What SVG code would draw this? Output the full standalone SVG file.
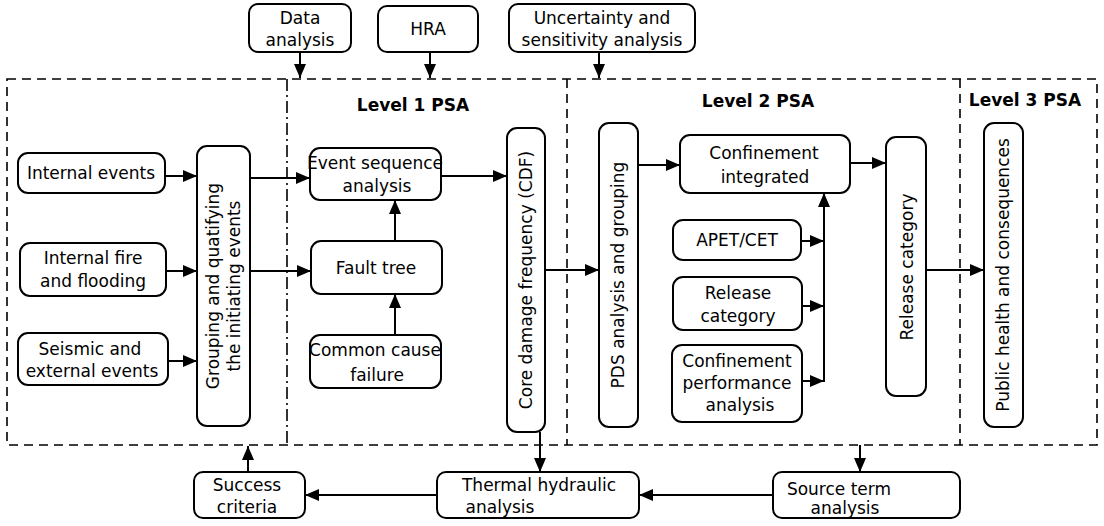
<svg xmlns="http://www.w3.org/2000/svg" width="1104" height="526" viewBox="0 0 1104 526">
<style>
.n{fill:#fff;stroke:#000;stroke-width:2}
text{font-family:"DejaVu Sans",Verdana,sans-serif;font-size:17px;fill:#000;text-anchor:middle}
.b{font-weight:bold}
.c{stroke:#000;stroke-width:2;fill:none}
.d{stroke:#000;stroke-width:1.6;fill:none;stroke-dasharray:9,6}
</style>
<defs><marker id="a" viewBox="0 0 14 12" refX="14" refY="6" markerWidth="14" markerHeight="12" orient="auto" markerUnits="userSpaceOnUse"><path d="M0,0L14,6L0,12z" fill="#000" stroke="none"/></marker></defs>
<rect width="1104" height="526" fill="#fff"/>
<g id="frames">
<rect class="d" x="7" y="79" width="1090" height="366"/>
<line class="d" x1="287" y1="79" x2="287" y2="445" style="stroke-dasharray:12,4,2,4"/>
<line class="d" x1="567" y1="79" x2="567" y2="445"/>
<line class="d" x1="960" y1="79" x2="960" y2="445"/>
<text class="b" x="413" y="111">Level 1 PSA</text>
<text class="b" x="758" y="107">Level 2 PSA</text>
<text class="b" x="1025" y="106">Level 3 PSA</text>
</g>
<g id="connectors" class="c">
<line x1="300" y1="52" x2="300" y2="78" marker-end="url(#a)"/>
<line x1="430" y1="52" x2="430" y2="78" marker-end="url(#a)"/>
<line x1="599" y1="52" x2="599" y2="78" marker-end="url(#a)"/>
<line x1="165" y1="176" x2="197" y2="176" marker-end="url(#a)"/>
<line x1="166" y1="271" x2="197" y2="271" marker-end="url(#a)"/>
<line x1="168" y1="361" x2="197" y2="361" marker-end="url(#a)"/>
<line x1="250" y1="178" x2="310" y2="178" marker-end="url(#a)"/>
<line x1="250" y1="271" x2="311" y2="271" marker-end="url(#a)"/>
<line x1="441" y1="176" x2="507" y2="176" marker-end="url(#a)"/>
<line x1="395" y1="241" x2="395" y2="200" marker-end="url(#a)"/>
<line x1="395" y1="335" x2="395" y2="294" marker-end="url(#a)"/>
<line x1="545" y1="270" x2="599" y2="270" marker-end="url(#a)"/>
<line x1="638" y1="165" x2="680" y2="165" marker-end="url(#a)"/>
<line x1="850" y1="163" x2="886" y2="163" marker-end="url(#a)"/>
<line x1="824" y1="382" x2="824" y2="193" marker-end="url(#a)"/>
<line x1="801" y1="241" x2="824" y2="241" marker-end="url(#a)"/>
<line x1="802" y1="306" x2="824" y2="306" marker-end="url(#a)"/>
<line x1="802" y1="381" x2="824" y2="381" marker-end="url(#a)"/>
<line x1="926" y1="270" x2="984" y2="270" marker-end="url(#a)"/>
<line x1="540" y1="432" x2="540" y2="472" marker-end="url(#a)"/>
<line x1="860" y1="445" x2="860" y2="472" marker-end="url(#a)"/>
<line x1="773" y1="495" x2="639" y2="495" marker-end="url(#a)"/>
<line x1="437" y1="495" x2="305" y2="495" marker-end="url(#a)"/>
<line x1="248" y1="472" x2="248" y2="446" marker-end="url(#a)"/>
</g>
<g id="data"><rect class="n" x="249" y="4" width="102" height="48" rx="9"/><text x="300" y="24">Data</text><text x="300" y="46">analysis</text></g>
<g id="hra"><rect class="n" x="378" y="6" width="100" height="46" rx="9"/><text x="428" y="35">HRA</text></g>
<g id="unc"><rect class="n" x="509" y="4" width="186" height="48" rx="9"/><text x="602" y="24">Uncertainty and</text><text x="602" y="46">sensitivity analysis</text></g>
<g id="ie"><rect class="n" x="18" y="153" width="147" height="40" rx="10"/><text x="91" y="179">Internal events</text></g>
<g id="iff"><rect class="n" x="20" y="243" width="146" height="53" rx="10"/><text x="93" y="264">Internal fire</text><text x="93" y="287">and flooding</text></g>
<g id="see"><rect class="n" x="18" y="333" width="150" height="52" rx="10"/><text x="90" y="355">Seismic and</text><text x="92" y="377">external events</text></g>
<g id="grp"><rect class="n" x="197" y="146" width="53" height="280" rx="10"/><text transform="translate(223,286) rotate(-90)"><tspan x="0" y="-4">Grouping and quatifying</tspan><tspan x="0" y="17">the initiating events</tspan></text></g>
<g id="esa"><rect class="n" x="310" y="148" width="131" height="52" rx="10"/><text x="375" y="169">Event sequence</text><text x="377" y="192">analysis</text></g>
<g id="ft"><rect class="n" x="311" y="241" width="131" height="53" rx="10"/><text x="376" y="274">Fault tree</text></g>
<g id="ccf"><rect class="n" x="310" y="335" width="131" height="53" rx="10"/><text x="375" y="356">Common cause</text><text x="377" y="381">failure</text></g>
<g id="cdf"><rect class="n" x="507" y="128" width="38" height="304" rx="10"/><text transform="translate(532,280) rotate(-90)">Core damage frequency (CDF)</text></g>
<g id="pds"><rect class="n" x="599" y="123" width="39" height="304" rx="10"/><text transform="translate(624,275) rotate(-90)">PDS analysis and grouping</text></g>
<g id="ci"><rect class="n" x="680" y="135" width="170" height="58" rx="10"/><text x="764" y="159">Confinement</text><text x="765" y="183">integrated</text></g>
<g id="apet"><rect class="n" x="673" y="220" width="128" height="40" rx="10"/><text x="737" y="246">APET/CET</text></g>
<g id="rc1"><rect class="n" x="673" y="277" width="129" height="53" rx="10"/><text x="738" y="299">Release</text><text x="738" y="322">category</text></g>
<g id="cpa"><rect class="n" x="672" y="345" width="130" height="77" rx="10"/><text x="737" y="367">Confinement</text><text x="737" y="389">performance</text><text x="740" y="411">analysis</text></g>
<g id="rc2"><rect class="n" x="886" y="137" width="40" height="259" rx="10"/><text transform="translate(913,267) rotate(-90)">Release category</text></g>
<g id="ph"><rect class="n" x="984" y="123" width="39" height="304" rx="10"/><text transform="translate(1009,275) rotate(-90)">Public health and consequences</text></g>
<g id="sc"><rect class="n" x="194" y="472" width="111" height="46" rx="9"/><text x="247" y="491">Success</text><text x="247" y="513">criteria</text></g>
<g id="th"><rect class="n" x="437" y="472" width="202" height="46" rx="9"/><text x="539" y="491">Thermal hydraulic</text><text x="500" y="513">analysis</text></g>
<g id="st"><rect class="n" x="773" y="472" width="187" height="46" rx="9"/><text x="839" y="495">Source term</text><text x="845" y="514">analysis</text></g>
</svg>
